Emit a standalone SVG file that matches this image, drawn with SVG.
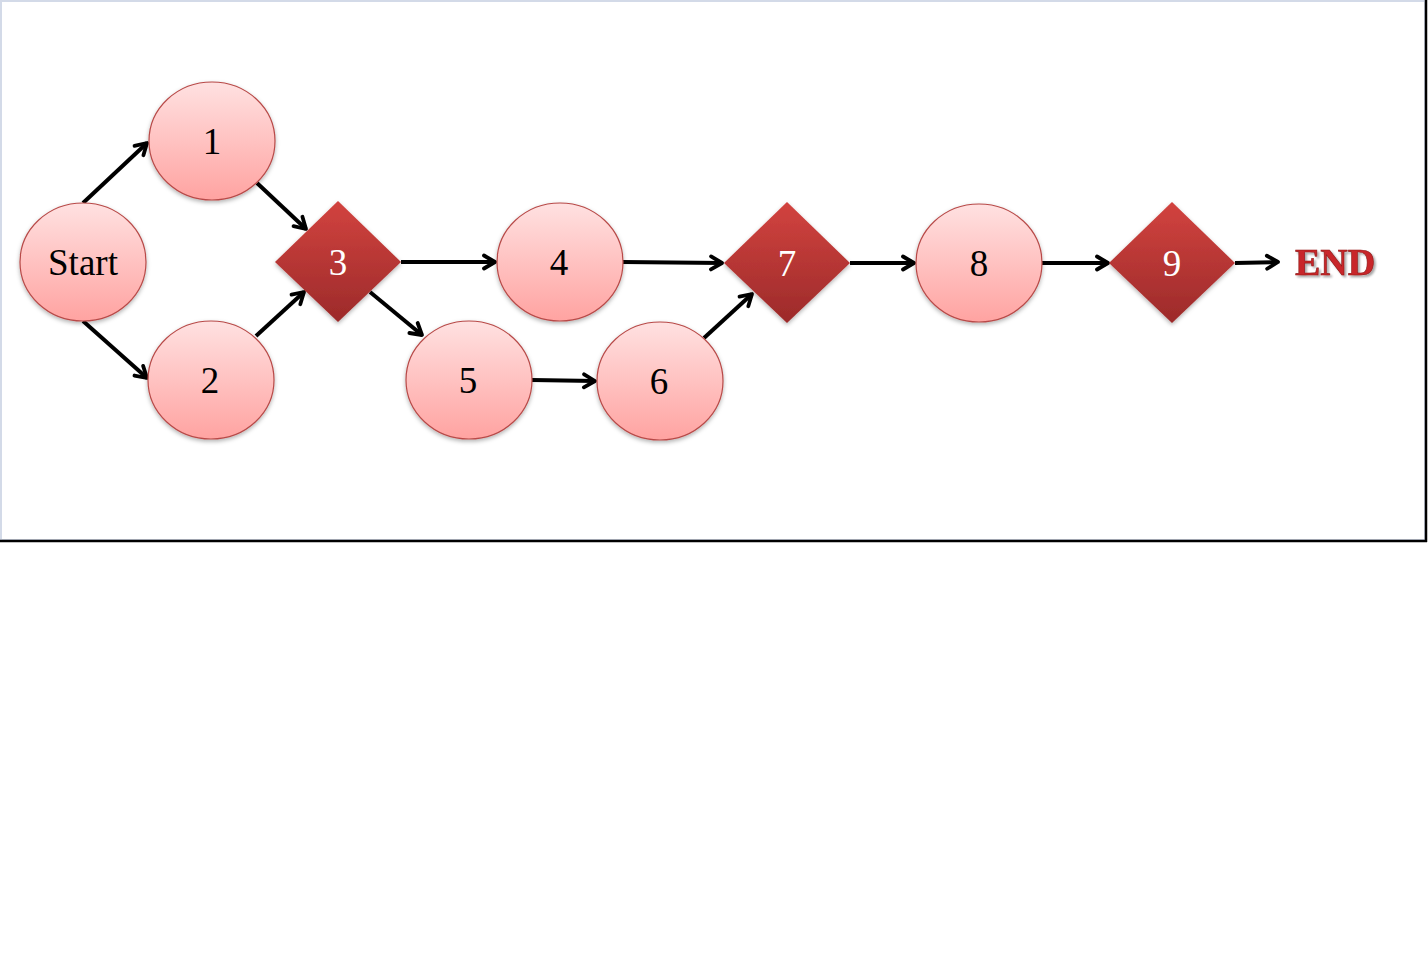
<svg xmlns="http://www.w3.org/2000/svg" width="1428" height="960" viewBox="0 0 1428 960">
<defs>
<linearGradient id="gc" x1="0" y1="0" x2="0" y2="1">
<stop offset="0" stop-color="#ffe1e1"/>
<stop offset="1" stop-color="#ffa3a1"/>
</linearGradient>
<linearGradient id="gd" x1="0" y1="0" x2="0" y2="1">
<stop offset="0" stop-color="#d2433f"/>
<stop offset="1" stop-color="#9c2a2a"/>
</linearGradient>
<filter id="sh" x="-20%" y="-20%" width="140%" height="150%">
<feDropShadow dx="0" dy="2" stdDeviation="2" flood-color="#000" flood-opacity="0.3"/>
</filter>
<filter id="ts" x="-10%" y="-20%" width="130%" height="150%">
<feDropShadow dx="2" dy="2" stdDeviation="1.2" flood-color="#000" flood-opacity="0.35"/>
</filter>
<marker id="arr" viewBox="0 0 18 18" refX="15" refY="9" markerWidth="18" markerHeight="18" markerUnits="userSpaceOnUse" orient="auto">
<path d="M4,2.5 L15,9 L4,15.5" fill="none" stroke="#000" stroke-width="3.8" stroke-linecap="round" stroke-linejoin="round"/>
</marker>
</defs>
<style>
.c{fill:url(#gc);stroke:#b84a48;stroke-width:1.2;filter:url(#sh)}
.d{fill:url(#gd);filter:url(#sh)}
.t{font-family:"Liberation Serif","Times New Roman",serif;font-size:37px;text-anchor:middle}
.tk{fill:#000}
.tw{fill:#fff}
.e{stroke:#000;stroke-width:4;fill:none;marker-end:url(#arr)}
</style>
<rect x="0" y="0" width="1428" height="960" fill="#fff"/>
<rect x="1" y="1" width="1424" height="539" fill="#fff" stroke="#d3dae8" stroke-width="2"/>
<line x1="1426" y1="0" x2="1426" y2="542" stroke="#000" stroke-width="2.5"/>
<line x1="0" y1="541" x2="1427" y2="541" stroke="#000" stroke-width="2.5"/>
<g id="connectors">
<line class="e" x1="83" y1="203" x2="147" y2="143"/>
<line class="e" x1="83" y1="321" x2="147" y2="378"/>
<line class="e" x1="257" y1="183" x2="306" y2="229"/>
<line class="e" x1="256" y1="336" x2="304" y2="292"/>
<line class="e" x1="401" y1="262" x2="495" y2="262"/>
<line class="e" x1="370" y1="292" x2="422" y2="335"/>
<line class="e" x1="623" y1="262" x2="722" y2="263"/>
<line class="e" x1="532" y1="380" x2="595" y2="381"/>
<line class="e" x1="704" y1="338" x2="752" y2="294"/>
<line class="e" x1="850" y1="263" x2="914" y2="263"/>
<line class="e" x1="1042" y1="263" x2="1108" y2="263"/>
<line class="e" x1="1235" y1="263" x2="1278" y2="262"/>
</g>
<g id="start"><ellipse class="c" cx="83" cy="262" rx="63" ry="59"/><text class="t tk" x="83" y="275">Start</text></g>
<g id="n1"><ellipse class="c" cx="212" cy="141" rx="63" ry="59"/><text class="t tk" x="212" y="154">1</text></g>
<g id="n2"><ellipse class="c" cx="211" cy="380" rx="63" ry="59"/><text class="t tk" x="210" y="393">2</text></g>
<g id="n3"><polygon class="d" points="338,201 401,262 338,322 275,262"/><text class="t tw" x="338" y="275">3</text></g>
<g id="n4"><ellipse class="c" cx="560" cy="262" rx="63" ry="59"/><text class="t tk" x="559" y="275">4</text></g>
<g id="n5"><ellipse class="c" cx="469" cy="380" rx="63" ry="59"/><text class="t tk" x="468" y="393">5</text></g>
<g id="n6"><ellipse class="c" cx="660" cy="381" rx="63" ry="59"/><text class="t tk" x="659" y="394">6</text></g>
<g id="n7"><polygon class="d" points="787,202 850,263 787,323 724,263"/><text class="t tw" x="787" y="276">7</text></g>
<g id="n8"><ellipse class="c" cx="979" cy="263" rx="63" ry="59"/><text class="t tk" x="979" y="276">8</text></g>
<g id="n9"><polygon class="d" points="1172,202 1235,263 1172,323 1109,263"/><text class="t tw" x="1172" y="276">9</text></g>
<g id="end"><text x="1335" y="275" font-family="'Liberation Serif','Times New Roman',serif" font-size="38" font-weight="bold" text-anchor="middle" fill="#c8282a" stroke="#8a1515" stroke-width="0.6" filter="url(#ts)">END</text></g>
</svg>
